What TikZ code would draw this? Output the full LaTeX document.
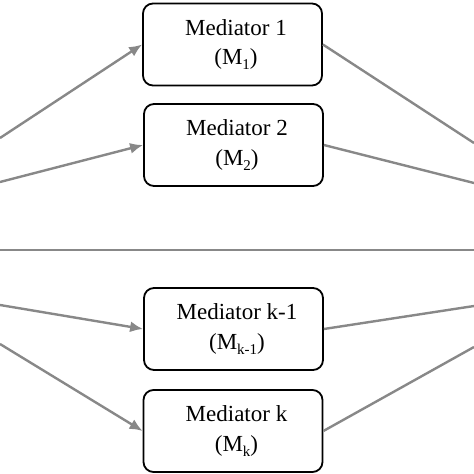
\documentclass[tikz,border=0pt]{standalone}
\usepackage{fontspec}
\setmainfont{Liberation Serif}
\usetikzlibrary{arrows.meta}
\definecolor{linegray}{RGB}{136,136,136}
\newcommand{\msub}[1]{\raisebox{-0.22em}{\fontsize{15}{15}\selectfont #1}}
\newcommand{\ind}{\hspace*{7pt}}
\tikzset{
  medbox/.style={draw=black, line width=1.8pt, rounded corners=10pt, minimum width=179pt, minimum height=82pt, align=center, inner sep=0pt, font=\fontsize{23}{29.5}\selectfont, fill=white},
  inarrow/.style={draw=linegray, line width=2.4pt, -{Latex[length=13pt,width=11pt]}},
  outline/.style={draw=linegray, line width=2.4pt},
  sepline/.style={draw=linegray, line width=2pt}
}
\begin{document}
\begin{tikzpicture}[x=1pt,y=-1pt]
\useasboundingbox (0,0) rectangle (474,474);
\node[medbox] (b1) at (232.5,44.5) {\ind Mediator 1\\\ind(M\msub{1})};
\node[medbox] (b2) at (233.5,145) {\ind Mediator 2\\\ind(M\msub{2})};
\node[medbox] (b3) at (233.5,329) {\ind Mediator k-1\\\ind(M\msub{k-1})};
\node[medbox] (b4) at (233,431) {\ind Mediator k\\\ind(M\msub{k})};
\coordinate (l1) at (0,138);
\coordinate (l2) at (0,182);
\coordinate (l3) at (0,305);
\coordinate (l4) at (0,344);
\coordinate (r1) at (474,143);
\coordinate (r2) at (474,183);
\coordinate (r3) at (474,306);
\coordinate (r4) at (474,347);
\coordinate (sl) at (0,250);
\coordinate (sr) at (474,250);
\draw[sepline] (sl) -- (sr);
\draw[inarrow] (l1) -- (b1.west);
\draw[inarrow] (l2) -- (b2.west);
\draw[inarrow] (l3) -- (b3.west);
\draw[inarrow] (l4) -- (b4.west);
\draw[outline] (b1.east) -- (r1);
\draw[outline] (b2.east) -- (r2);
\draw[outline] (b3.east) -- (r3);
\draw[outline] (b4.east) -- (r4);
\end{tikzpicture}
\end{document}
